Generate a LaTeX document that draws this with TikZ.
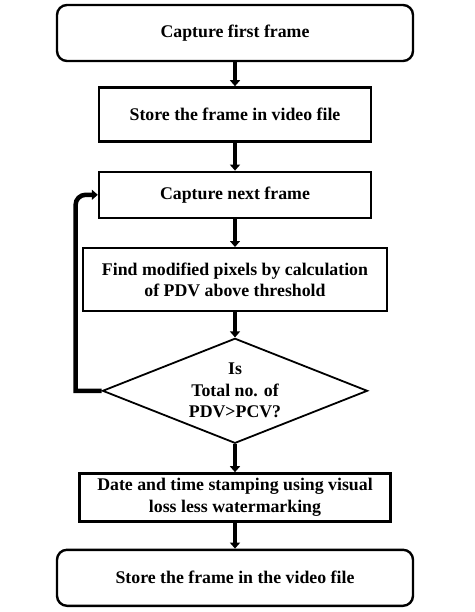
\documentclass[tikz,border=0pt]{standalone}
\usepackage{fontspec}
\setmainfont{Liberation Serif}
\usetikzlibrary{arrows.meta, positioning, shapes.geometric}

\begin{document}
\begin{tikzpicture}[
  node distance=26pt,
  font=\fontsize{17.8}{21.5}\selectfont\bfseries,
  box/.style={draw, line width=2.4pt, minimum width=272pt, minimum height=54pt,
              align=center, inner sep=4pt},
  term/.style={box, rounded corners=10pt, minimum width=356pt, minimum height=56pt},
  decide/.style={draw, diamond, line width=1.8pt, aspect=2.5, inner sep=0pt,
                 minimum width=265pt, minimum height=105pt, align=center},
  arr/.style={-{Triangle[length=6pt,width=10pt]}, line width=3.6pt},
  back/.style={arr, line width=4.5pt}
]
\useasboundingbox (0,0) rectangle (474pt,-612pt);

\node[term] (first) at (235pt,-33pt) {Capture first frame};
\node[box, below=24pt of first] (store) {Store the frame in video file};
\node[box, below=28pt of store, minimum height=46pt] (next) {Capture next frame};
\node[box, below=28pt of next, minimum width=304pt, minimum height=63pt] (pdv)
  {Find modified pixels by calculation\\of PDV above threshold};
\node[decide, below=25pt of pdv] (check) {Is\\Total no. of\\PDV>PCV?};
\node[box, below=28pt of check, minimum width=311pt, minimum height=48pt] (stamp)
  {Date and time stamping using visual\\loss less watermarking};
\node[term, below=26pt of stamp] (save) {Store the frame in the video file};

\draw[arr] (first) -- (store);
\draw[arr] (store) -- (next);
\draw[arr] (next) -- (pdv);
\draw[arr] (pdv) -- (check);
\draw[arr] (check) -- (stamp);
\draw[arr] (stamp) -- (save);

% loop back when the test fails
\draw[back] (check.west) -- ++(-26pt,0) [rounded corners=10pt] |- (next.west);
\end{tikzpicture}
\end{document}
